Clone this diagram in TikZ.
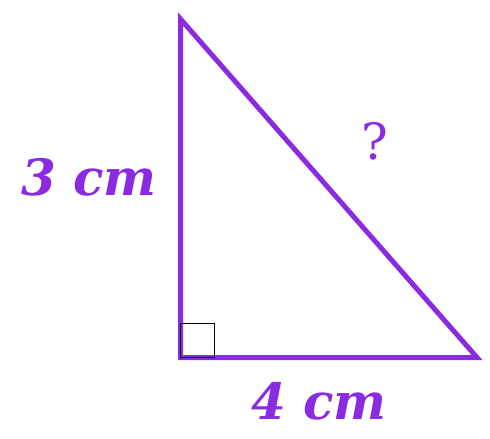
\documentclass[tikz,border=0pt]{standalone}
\usepackage{fontspec}
\setmainfont{DejaVu Serif}
\definecolor{violetline}{HTML}{8A2BE2}
\begin{document}
\begin{tikzpicture}[x=1pt, y=-1pt, line join=miter]
			\tikzset{side/.style={text=violetline, font=\fontsize{50}{60}\selectfont\bfseries\itshape}}
			\useasboundingbox (0,0) rectangle (490,439);
			\coordinate (A) at (180.5,19);
			\coordinate (B) at (180.5,357.5);
			\coordinate (C) at (477,357.5);
			\draw[violetline, line width=5pt] (A)--(B)--(C)--cycle;
			\draw[line width=1.6pt] (B) rectangle ++(34,-34);
			\node[side] (ab) at (89,177) {3 cm};
			\node[side] (bc) at (319,401) {4 cm};
			\node[text=violetline, font=\fontsize{50}{60}\selectfont] (ac) at (375,141) {?};
		\end{tikzpicture}
\end{document}
